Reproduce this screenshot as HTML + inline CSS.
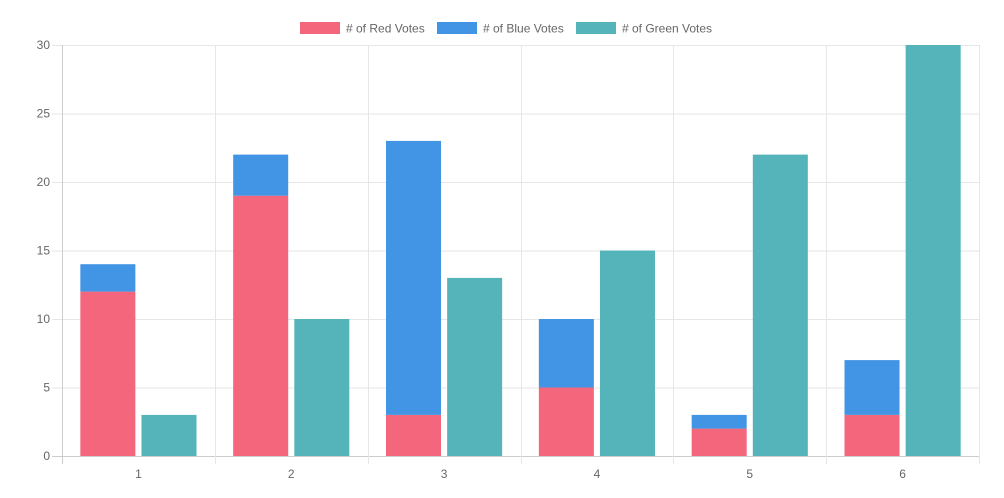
<!DOCTYPE html>
<html><head><meta charset="utf-8"><style>
body{margin:0;background:#fff;}
svg{display:block;font-family:"Liberation Sans",Arial,sans-serif;}
</style></head><body>
<svg id="chart" width="1004" height="498" viewBox="0 0 1004 498">
<g id="legend">
 <g><rect x="300" y="22" width="40" height="12" fill="#f4667b"/><text x="346" y="32.5" font-size="12" fill="#666">#&#160;of Red Votes</text></g>
 <g><rect x="437" y="22" width="40" height="12" fill="#4195e4"/><text x="483" y="32.5" font-size="12" fill="#666">#&#160;of Blue Votes</text></g>
 <g><rect x="576" y="22" width="40" height="12" fill="#55b4b9"/><text x="622" y="32.5" font-size="12" fill="#666">#&#160;of Green Votes</text></g>
</g>
<g id="grid"></g><g id="bars"></g><g id="axes"></g>
</svg>
<script>
const categories=["1","2","3","4","5","6"];
const redVotes=[12,19,3,5,2,3];
const blueVotes=[2,3,20,5,1,4];
const greenVotes=[3,10,13,15,22,30];
const yTicks=[0,5,10,15,20,25,30];
const NS="http://www.w3.org/2000/svg";
const L=62,R=979,T=45,B=456,yMax=30;
const y=v=>B-(v/yMax)*(B-T);
const cw=(R-L)/categories.length;
const x=i=>L+i*cw;
function mk(tag,attrs,parent){const e=document.createElementNS(NS,tag);for(const k in attrs)e.setAttribute(k,attrs[k]);parent.appendChild(e);return e;}
const grid=document.getElementById('grid'),bars=document.getElementById('bars'),axes=document.getElementById('axes');
yTicks.forEach(t=>{
 const ln=mk('line',{x1:L-10,x2:R,y1:y(t)+0.5,y2:y(t)+0.5,stroke:t===0?'#ccc':'#e6e6e6','stroke-width':1},grid);
 
 
 const tx=mk('text',{x:L-12,y:y(t)+4,'text-anchor':'end','font-size':12,fill:'#666'},axes);
 tx.textContent=t;
 
 
});
for(let i=0;i<=categories.length;i++){
 const ln=mk('line',{x1:Math.round(x(i))+0.5,x2:Math.round(x(i))+0.5,y1:T,y2:B+8,stroke:i===0?'#ccc':'#e6e6e6','stroke-width':1},grid);
 
 
}
const catW=cw*0.8,bw=catW/2*0.9;
categories.forEach((c,i)=>{
 const s=x(i)+cw*0.1;
 const c1=s+catW/4, c2=s+catW*3/4;
 const r=mk('rect',{x:c1-bw/2,y:y(redVotes[i]),width:bw,height:B-y(redVotes[i]),fill:'#f4667b'},bars);
 
 
 const b=mk('rect',{x:c1-bw/2,y:y(redVotes[i]+blueVotes[i]),width:bw,height:y(redVotes[i])-y(redVotes[i]+blueVotes[i]),fill:'#4195e4'},bars);
 
 
 const g=mk('rect',{x:c2-bw/2,y:y(greenVotes[i]),width:bw,height:B-y(greenVotes[i]),fill:'#55b4b9'},bars);
 
 
 const tx=mk('text',{x:x(i)+cw/2,y:478,'text-anchor':'middle','font-size':12,fill:'#666'},axes);
 tx.textContent=c;
 
 
});
</script>
</body></html>
